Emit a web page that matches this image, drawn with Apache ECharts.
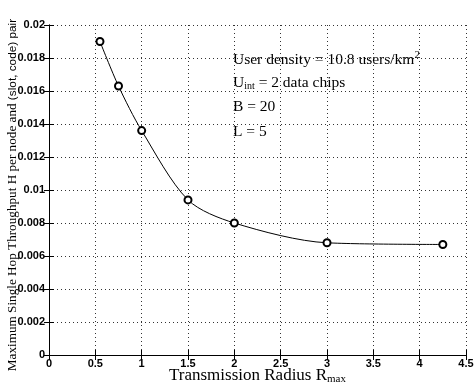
<!DOCTYPE html>
<html><head><meta charset="utf-8">
<script src="https://cdn.jsdelivr.net/npm/echarts@6/dist/echarts.min.js"></script>
<style>html,body{margin:0;padding:0;background:#fff}#c{width:474px;height:387px}</style>
</head><body><div id="c"></div>
<script>
const radius = [0.55, 0.75, 1, 1.5, 2, 3, 4.25];
const throughput = [0.0190, 0.0163, 0.0136, 0.0094, 0.0080, 0.0068, 0.0067];
const xTicks = [0, 0.5, 1, 1.5, 2, 2.5, 3, 3.5, 4, 4.5];
const yTicks = [0, 0.002, 0.004, 0.006, 0.008, 0.01, 0.012, 0.014, 0.016, 0.018, 0.02];
const notes = ['User density = 10.8 users/km{sup|2}', 'U{sub|int} = 2 data chips', 'B = 20', 'L = 5'];

const chart = echarts.init(document.getElementById('c'));
const tickFont = {fontFamily: 'Liberation Sans', fontSize: 11, fontWeight: 'bold', color: '#000'};
const serif = 'Liberation Serif';
const gridLine = {show: true, lineStyle: {color: '#333', type: [1, 3], width: 1}};
const axisLine = {show: true, lineStyle: {color: '#000', width: 1}};
const tick = {show: true, inside: true, length: 5, lineStyle: {color: '#000'}};
chart.setOption({
  animation: false,
  grid: {left: 49, right: 8, top: 25, bottom: 32, containLabel: false, outerBoundsMode: 'none'},
  xAxis: [{
    type: 'value', min: 0, max: 4.5, interval: 0.5,
    axisLine, axisTick: tick, splitLine: gridLine,
    axisLabel: Object.assign({margin: 3, formatter: v => String(parseFloat(v.toFixed(2)))}, tickFont),
    name: 'Transmission Radius R{sub|max}', nameLocation: 'middle', nameGap: 11, nameMoveOverlap: false,
    nameTextStyle: {fontFamily: serif, fontSize: 17, color: '#000',
      rich: {sub: {fontFamily: serif, fontSize: 11, verticalAlign: 'bottom', padding: [8, 0, 0, 0], color: '#000'}}}
  }, {
    type: 'value', position: 'top', min: 0, max: 4.5, interval: 0.5,
    axisLine, axisTick: tick, axisLabel: {show: false}, splitLine: {show: false}
  }],
  yAxis: [{
    type: 'value', min: 0, max: 0.02, interval: 0.002,
    axisLine, axisTick: tick, splitLine: gridLine,
    axisLabel: Object.assign({margin: 4, formatter: v => String(parseFloat(v.toFixed(3)))}, tickFont),
    name: 'Maximum Single Hop Throughput H per node and {s|(slot, code) pair}',
    nameLocation: 'middle', nameGap: 30, nameMoveOverlap: false,
    nameTextStyle: {fontFamily: serif, fontSize: 13.2, color: '#000', padding: [0, 10, 0, 0],
      rich: {s: {fontFamily: 'Liberation Sans', fontSize: 11.8, color: '#000'}}}
  }, {
    type: 'value', position: 'right', min: 0, max: 0.02, interval: 0.002,
    axisLine, axisTick: tick, axisLabel: {show: false}, splitLine: {show: false}
  }],
  series: [{
    type: 'line', data: radius.map((x, i) => [x, throughput[i]]),
    smooth: 0.3, symbol: 'emptyCircle', symbolSize: 7,
    lineStyle: {color: '#000', width: 1},
    itemStyle: {color: '#000', borderColor: '#000', borderWidth: 0.8}
  }],
  graphic: notes.map((t, i) => ({
    type: 'text', left: 233, top: 50 + i * 24.7,
    style: {text: t, fontFamily: serif, fontSize: 15.5, fill: '#000',
      rich: {
        sup: {fontFamily: serif, fontSize: 11, verticalAlign: 'top', padding: [0, 0, 8, 0], fill: '#000'},
        sub: {fontFamily: serif, fontSize: 10, verticalAlign: 'bottom', padding: [8, 0, 0, 0], fill: '#000'}
      }}
  }))
});
</script></body></html>
